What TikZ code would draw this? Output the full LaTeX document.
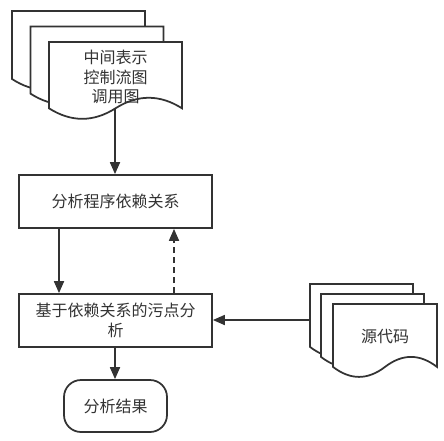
\documentclass[tikz,border=0pt]{standalone}
\usepackage{fontspec}
\setmainfont{Noto Sans CJK SC}
\usetikzlibrary{arrows.meta}
\definecolor{ink}{HTML}{333333}
\newcommand\docsheet[4]{%
  \filldraw[sheet] (#1,#2) -- ++(#3,0) -- ++(0,{0.85*#4})
    .. controls ({#1+0.8333*#3},{#2+0.67*#4}) and ({#1+0.6667*#3},{#2+0.67*#4}) .. ({#1+0.5*#3},{#2+0.85*#4})
    .. controls ({#1+0.3333*#3},{#2+1.03*#4}) and ({#1+0.1667*#3},{#2+1.03*#4}) .. (#1,{#2+0.85*#4}) -- cycle;}
\begin{document}
\begin{tikzpicture}[x=1pt,y=-1pt,
  sheet/.style={draw=ink,fill=white,line width=1.75pt,line join=miter},
  txt/.style={text=ink,font=\fontsize{16pt}{19.5pt}\selectfont,align=center,inner sep=0pt},
  procbox/.style={draw=ink,line width=1.75pt,fill=white,minimum width=193pt,minimum height=53pt,txt},
  termbox/.style={draw=ink,line width=1.75pt,fill=white,minimum width=103pt,minimum height=52pt,rounded corners=17pt,txt},
  arr/.style={draw=ink,line width=1.75pt,-{Triangle[length=12pt,width=10pt]}},
  darr/.style={arr,dash pattern=on 6pt off 4pt}]
\useasboundingbox (0,0) rectangle (444,440);
% top multi-document
\docsheet{12}{11}{133}{80}
\docsheet{30.5}{26.5}{133}{79}
\docsheet{49}{42}{133}{78}
\node[txt] (docA) at (115.5,77) {中间表示\\控制流图\\调用图};
\coordinate (docAb) at (115,108.3);
% right multi-document
\docsheet{310}{284}{103}{74}
\docsheet{321}{294}{103}{74}
\docsheet{333}{304}{104}{74}
\node[txt] (docB) at (385,337) {源代码};
\coordinate (docBl) at (310,320);
% boxes
\node[procbox] (box1) at (115.5,201.5) {分析程序依赖关系};
\node[procbox] (box2) at (115.5,320.5) {基于依赖关系的污点分\\析};
\node[termbox] (res) at (115.5,406) {分析结果};
% connectors
\draw[arr] (docAb) -- (docAb |- box1.north);
\draw[arr] ([xshift=-56.5pt]box1.south) -- ([xshift=-56.5pt]box2.north);
\draw[darr] ([xshift=58.5pt]box2.north) -- ([xshift=58.5pt]box1.south);
\draw[arr] (docBl) -- (docBl -| box2.east);
\draw[arr] ([xshift=-0.5pt]box2.south) -- ([xshift=-0.5pt]res.north);
\end{tikzpicture}
\end{document}
